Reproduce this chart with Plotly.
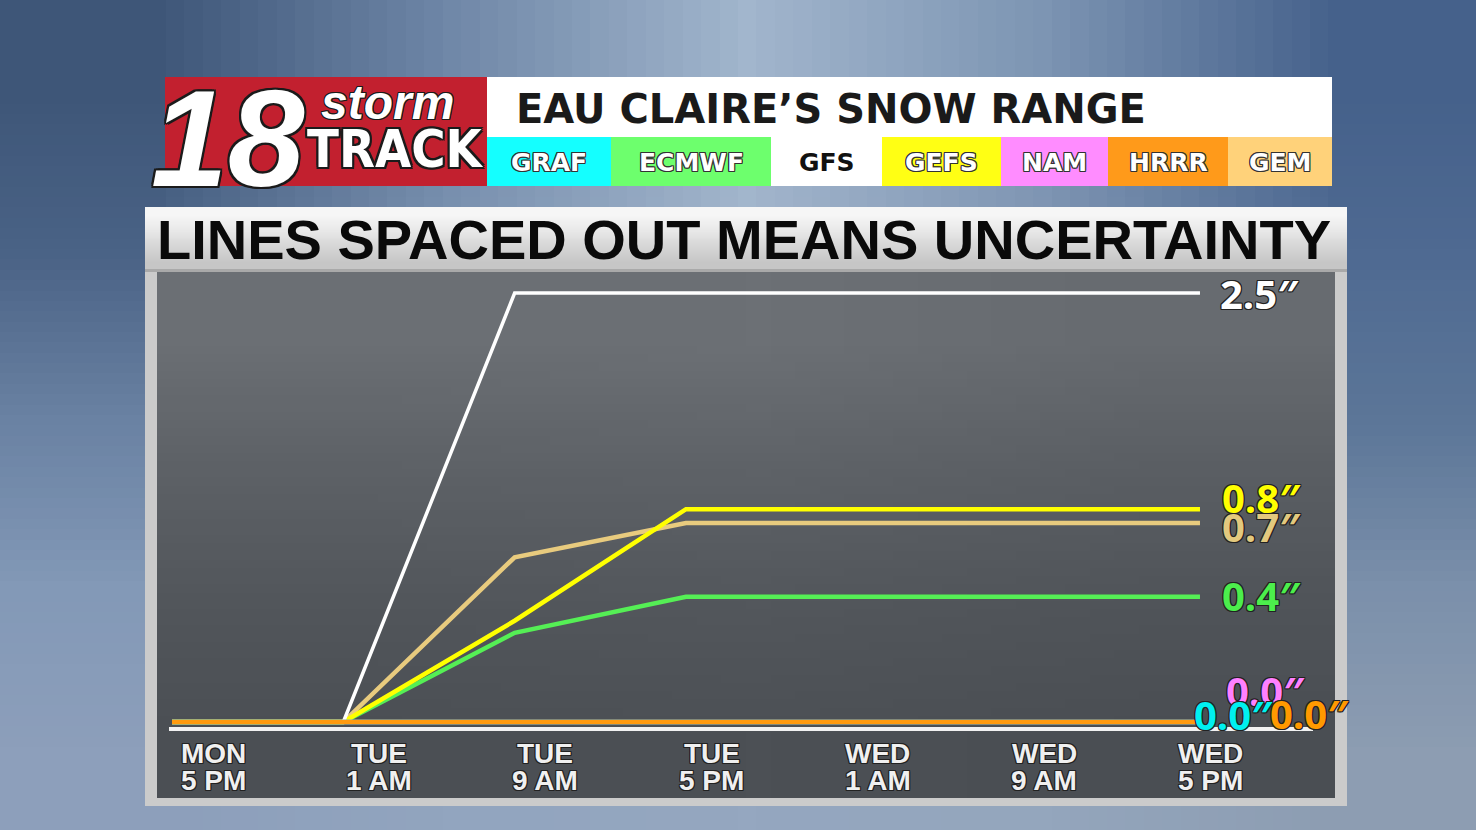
import base64
import struct
import zlib

import plotly.graph_objects as go

W, H = 1476, 830

# ---- data -------------------------------------------------------------
models = ["GRAF", "ECMWF", "GFS", "GEFS", "NAM", "HRRR", "GEM"]
days = ["MON", "TUE", "TUE", "TUE", "WED", "WED", "WED"]
hours = ["5 PM", "1 AM", "9 AM", "5 PM", "1 AM", "9 AM", "5 PM"]
steps = list(range(7))

# line heights as drawn on the graphic (the graphic is not to scale with its labels)
graf = [0, 0, 0, 0, 0, 0, 0]
ecmwf = [0, 0, 0.52, 0.73, 0.73, 0.73, 0.73]
gfs = [0, 0, 2.5, 2.5, 2.5, 2.5, 2.5]
gefs = [0, 0, 0.59, 1.24, 1.24, 1.24, 1.24]
nam = [0, 0, 0, 0, 0, 0, 0]
hrrr = [0, 0, 0, 0, 0, 0, 0]
gem = [0, 0, 0.96, 1.16, 1.16, 1.16, 1.16]
totals = ["0.0″", "0.4″", "2.5″", "0.8″", "0.0″", "0.0″", "0.7″"]

series = dict(zip(models, [graf, ecmwf, gfs, gefs, nam, hrrr, gem]))
labels = dict(zip(models, totals))

# ---- styles -----------------------------------------------------------
line_colors = {"GRAF": "#00ffff", "ECMWF": "#55ef55", "GFS": "#ffffff", "GEFS": "#ffff00",
               "NAM": "#ff80ff", "HRRR": "#ff9a0f", "GEM": "#e8cb7e"}
cell_colors = {"GRAF": "#14ffff", "ECMWF": "#6dff6d", "GFS": "#ffffff", "GEFS": "#ffff14",
               "NAM": "#ff8cff", "HRRR": "#ff9a1a", "GEM": "#ffd27a"}
label_colors = {"GRAF": "#00f0f0", "ECMWF": "#4cee4c", "GFS": "#ffffff", "GEFS": "#ffff00",
                "NAM": "#ff80ff", "HRRR": "#ff9900", "GEM": "#e3c97e"}
cell_edges = [487, 611, 771, 882, 1001, 1108, 1228, 1332]
# end-label nudges (px) so the zero labels don't sit on top of each other
label_shift = {"GFS": (18, 0), "GEFS": (20, 12), "GEM": (20, -4), "ECMWF": (20, 1),
               "NAM": (24, 32), "GRAF": (-8, 8), "HRRR": (68, 9)}
draw_order = ["ECMWF", "GEM", "GEFS", "GFS", "NAM", "GRAF", "HRRR"]
label_order = ["NAM", "HRRR", "GRAF", "ECMWF", "GEM", "GEFS", "GFS"]


def fx(x):
    return x / W


def fy(y):
    return 1 - y / H


def outline(w, c="#1b1b1b"):
    return ", ".join(f"{a}px {b}px 0 {c}" for a in (-w, 0, w) for b in (-w, 0, w) if a or b)


def png_uri(rows):
    h, w = len(rows), len(rows[0])
    raw = b"".join(b"\x00" + bytes(v for px in row for v in px) for row in rows)

    def chunk(t, d):
        return struct.pack(">I", len(d)) + t + d + struct.pack(">I", zlib.crc32(t + d) & 0xffffffff)

    png = (b"\x89PNG\r\n\x1a\n" + chunk(b"IHDR", struct.pack(">IIBBBBB", w, h, 8, 2, 0, 0, 0))
           + chunk(b"IDAT", zlib.compress(raw)) + chunk(b"IEND", b""))
    return "data:image/png;base64," + base64.b64encode(png).decode()


def hexrgb(s):
    return tuple(int(s[i:i + 2], 16) for i in (1, 3, 5))


sky = [["#3e5678", "#7088a8", "#a2b6cd", "#7d95b3", "#45618b"],
       ["#4a6386", "#7d94b2", "#a3b6cc", "#8096b3", "#4f6a92"],
       ["#6a82a3", "#8aa0bb", "#9aaec6", "#8a9fba", "#5c7698"],
       ["#8399b7", "#8ea2bd", "#96a9c2", "#90a3bc", "#7b90ab"],
       ["#8d9fbb", "#92a5bf", "#95a7c0", "#94a6bd", "#8d9db2"]]
panel = [["#6b6f74", "#6c7075", "#676b70"],
         ["#5d6166", "#5e6267", "#5a5e63"],
         ["#52565b", "#53575c", "#505459"],
         ["#4b4f54", "#4c5055", "#4a4e53"]]
titlebar = [["#f6f6f6"], ["#e8e8e8"], ["#d6d6d6"], ["#c6c6c6"]]


def img(rows, x0, y0, x1, y1):
    return dict(source=png_uri([[hexrgb(c) for c in r] for r in rows]), xref="paper", yref="paper",
                x=fx(x0), y=fy(y0), sizex=fx(x1) - fx(x0), sizey=fy(y0) - fy(y1),
                xanchor="left", yanchor="top", sizing="stretch", layer="below")


def rect(x0, y0, x1, y1, color):
    return dict(type="rect", xref="paper", yref="paper", x0=fx(x0), x1=fx(x1), y0=fy(y1), y1=fy(y0),
                fillcolor=color, line_width=0, layer="below")


def text_at(x, y, text, font, xanchor="center", **kw):
    return dict(x=fx(x), y=fy(y), xref="paper", yref="paper", xanchor=xanchor, yanchor="middle",
                text=text, showarrow=False, font=font, **kw)


# ---- figure -----------------------------------------------------------
fig = go.Figure()

for m in draw_order:
    fig.add_trace(go.Scatter(x=steps, y=series[m], mode="lines", name=m,
                             line=dict(color=line_colors[m], width=3.5 if m == "GFS" else 4.5),
                             hoverinfo="name+y"))

# carrier for the time-label axis
fig.add_trace(go.Scatter(x=steps, y=[None] * 7, xaxis="x2", showlegend=False, hoverinfo="skip"))

shapes = [
    rect(165, 77, 487, 186, "#c2202f"),
    rect(487, 77, 1332, 137, "#ffffff"),
]
for m, a, b in zip(models, cell_edges[:-1], cell_edges[1:]):
    shapes.append(rect(a, 137, b, 186, cell_colors[m]))
shapes += [
    rect(145, 270, 157, 806, "#cbcbcb"),
    rect(1335, 270, 1347, 806, "#cbcbcb"),
    rect(145, 798, 1347, 806, "#cbcbcb"),
    rect(145, 269, 1347, 272, "#a9a9a9"),
    rect(169, 727, 1313, 731, "#f2f2f2"),
]

ann = []
# logo
ann.append(text_at(228, 138, "<b><i>18</i></b>",
                   dict(family="Liberation Sans", size=138, color="white", shadow=outline(2))))
ann.append(text_at(387, 103, "<b><i>storm</i></b>",
                   dict(family="Liberation Sans", size=48, color="white", shadow=outline(1))))
ann.append(text_at(395, 149, "<b>TRACK</b>",
                   dict(family="DejaVu Sans Condensed, Liberation Sans", size=52, color="white",
                        shadow=outline(2))))
# header
ann.append(text_at(514, 109, "<b>EAU CLAIRE’S SNOW RANGE</b>",
                   dict(family="DejaVu Sans", size=40, color="#1a1a1a"), xanchor="left"))
for m, a, b in zip(models, cell_edges[:-1], cell_edges[1:]):
    ann.append(text_at((a + b) / 2, 162, f"<b>{m}</b>",
                       dict(family="DejaVu Sans", size=25,
                            color="#111111" if m == "GFS" else "white",
                            shadow="none" if m == "GFS" else outline(1, "#333333"))))
# chart title
ann.append(text_at(744, 239, "<b>LINES SPACED OUT MEANS UNCERTAINTY</b>",
                   dict(family="Liberation Sans", size=56, color="#0a0a0a")))
# time labels
for i, (d, h) in enumerate(zip(days, hours)):
    for txt, yy in ((d, 753), (h, 780)):
        ann.append(dict(x=i, xref="x2", y=fy(yy), yref="paper", xanchor="center", yanchor="middle",
                        text=f"<b>{txt}</b>", showarrow=False,
                        font=dict(family="Liberation Sans", size=28, color="#f0f0f0",
                                  shadow=outline(1, "#222222"))))
# end labels
for m in label_order:
    dx, dy = label_shift[m]
    ann.append(dict(x=steps[-1], y=series[m][-1], xref="x", yref="y", xanchor="left", yanchor="middle",
                    text=f"<b>{labels[m]}</b>", xshift=dx, yshift=dy, showarrow=False,
                    font=dict(family="Open Sans", size=40, color=label_colors[m],
                              shadow=outline(1, "#222222"))))

fig.update_layout(
    width=W, height=H,
    margin=dict(l=0, r=0, t=0, b=0),
    paper_bgcolor="#7d91ad",
    plot_bgcolor="rgba(0,0,0,0)",
    showlegend=False,
    xaxis=dict(range=[(0 - 172) / 171.33, (W - 172) / 171.33], visible=False, fixedrange=True),
    xaxis2=dict(range=[-213 / 166.2, (W - 213) / 166.2], overlaying="x", visible=False, fixedrange=True),
    yaxis=dict(range=[(722 - H) / 171.6, 722 / 171.6], visible=False, fixedrange=True),
    images=[img(sky, 0, 0, W, H), img(titlebar, 145, 207, 1347, 270), img(panel, 157, 272, 1335, 798)],
    shapes=shapes,
    annotations=ann,
)

fig.write_html("out.html", config={"displayModeBar": False},
               post_script="document.body.style.margin='0';")
